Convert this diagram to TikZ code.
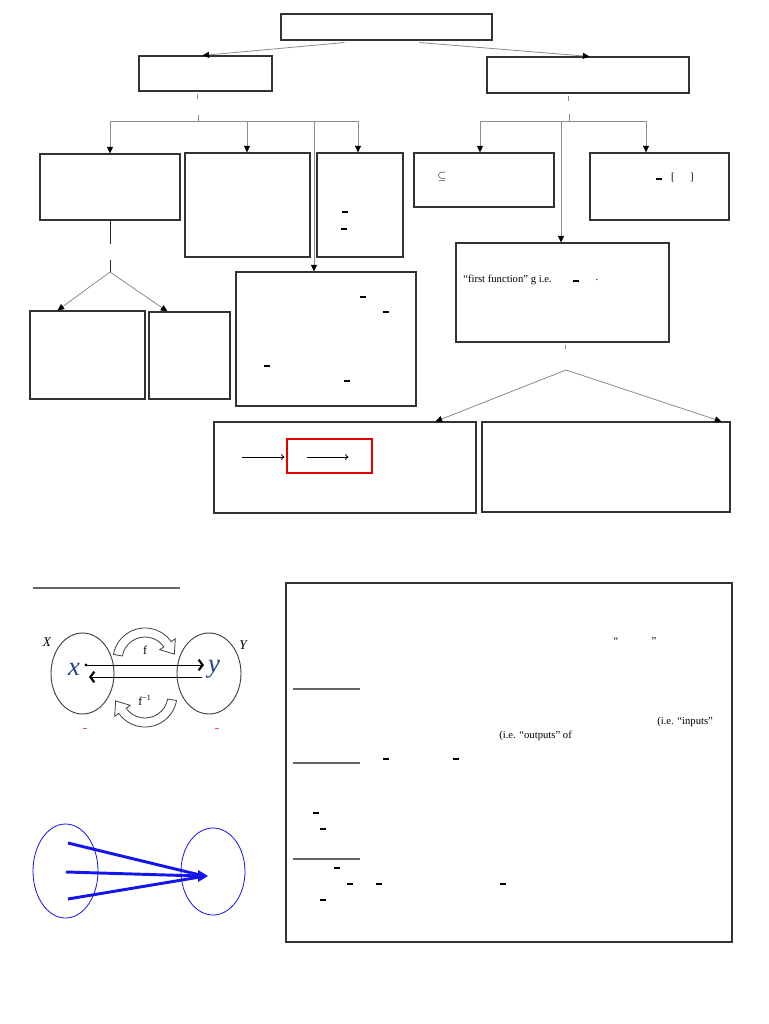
\documentclass[tikz,border=0pt]{standalone}
\usepackage{fontspec}
\setmainfont{Liberation Serif}
\usetikzlibrary{arrows.meta,fit,calc,shapes.geometric}
\definecolor{xblue}{RGB}{35,65,140}
\definecolor{bblue}{RGB}{20,20,235}
\begin{document}
\begin{tikzpicture}[x=0.75pt,y=-0.75pt,
  box/.style={draw=black!80, line width=0.8pt, inner sep=0pt},
  conn/.style={draw=black!45, line width=0.6pt},
  arr/.style={conn, -{Triangle[length=5pt,width=4.5pt,color=black]}},
  darkline/.style={draw=black!85, line width=0.7pt},
  blot/.style={fill=black, inner sep=0pt, minimum width=4.5pt, minimum height=1.8pt},
  txt/.style={font=\fontsize{8}{9.6}\selectfont, inner sep=0pt},
  ell/.style={draw=black!75, line width=0.7pt, ellipse, inner sep=0pt},
  bell/.style={draw=bblue, line width=0.6pt, ellipse, inner sep=0pt},
  uline/.style={draw=black!60, line width=0.9pt},
  curvarr/.pic={\draw[black!75, line width=0.6pt, fill=white]
     (190:32) arc[start angle=190, end angle=325, radius=32]
     -- (325:37) -- (29.4,-5.9) -- (325:18) -- (325:23)
     arc[start angle=325, end angle=190, radius=23] -- cycle;}]
\useasboundingbox (0,0) rectangle (768,1024);
\fill[white] (0,0) rectangle (768,1024);

% ---------- boxes ----------
\node[box, fit={(281,14) (492,40)}] (top) {};
\node[box, fit={(139,56) (272,91)}] (l1) {};
\node[box, fit={(487,57) (689,93)}] (r1) {};
\node[box, fit={(40,154) (180,220)}] (a) {};
\node[box, fit={(185,153) (310,257)}] (b) {};
\node[box, fit={(317,153) (403,257)}] (c) {};
\node[box, fit={(236,272) (416,406)}] (d) {};
\node[box, fit={(30,311) (145,399)}] (e) {};
\node[box, fit={(149,312) (230,399)}] (f) {};
\node[box, fit={(414,153) (554,207)}] (g) {};
\node[box, fit={(590,153) (729,220)}] (h) {};
\node[box, fit={(456,243) (669,342)}] (i) {};
\node[box, fit={(214,422) (476,513)}] (j) {};
\node[box, fit={(482,422) (730,512)}] (k) {};
\node[box, fit={(286,583) (732,942)}] (notes) {};
\node[draw=red!90!black, line width=0.8pt, inner sep=0pt, fit={(287,439) (372,473)}] (red) {};

% ---------- connectors ----------
\draw[arr] ($(top.south west)+(64,2)$) -- ($(l1.north west)+(64,0)$);
\draw[arr] ($(top.south west)+(139,2)$) -- ($(r1.north west)+(103,0)$);

\coordinate (lj) at (198,121);
\coordinate (lh1) at (110,121);
\coordinate (lb) at (247,121);
\coordinate (ld) at (314,121);
\coordinate (lh2) at (358,121);
\draw[conn] ($(l1.south west)+(59,2)$) -- ++(0,5);
\draw[conn] (lj) -- ++(0,-6);
\draw[conn] (lh1) -- (lh2);
\draw[arr] (lh1) -- (a.north -| lh1);
\draw[arr] (lb) -- (b.north -| lb);
\draw[arr] (lh2) -- (c.north -| lh2);
\draw[arr] (ld) -- (d.north -| ld);

\coordinate (asplit) at (110,272);
\draw[darkline] (a.south) -- ++(0,23);
\draw[darkline] (asplit) -- ++(0,-12);
\draw[arr] (asplit) -- ($(e.north west)+(28,0)$);
\draw[arr] (asplit) -- ($(f.north west)+(19,0)$);

\coordinate (rj) at (569,121);
\coordinate (rh1) at (480,121);
\coordinate (ri) at (561,121);
\coordinate (rh2) at (646,121);
\draw[conn] ($(r1.south west)+(82,2)$) -- ++(0,5);
\draw[conn] (rj) -- ++(0,-7);
\draw[conn] (rh1) -- (rh2);
\draw[arr] (rh1) -- (g.north -| rh1);
\draw[arr] (rh2) -- (h.north -| rh2);
\draw[arr] (ri) -- (i.north -| ri);

\coordinate (isplit) at (566,370);
\draw[conn] ($(i.south west)+(110,2)$) -- ++(0,4);
\draw[arr] (isplit) -- ($(j.north west)+(222,0)$);
\draw[arr] (isplit) -- ($(k.north west)+(240,0)$);

\draw[line width=0.6pt, -{To[length=2.5pt,width=4.5pt]}] ($(red.west)+(-44,1)$) -- ($(red.west)+(-2,1)$);
\draw[line width=0.6pt, -{To[length=2.5pt,width=4.5pt]}] ($(red.west)+(21,1)$) -- ($(red.west)+(62,1)$);

% ---------- texts and marks in the tree ----------
\node[txt] (sub) at (442,177) {$\subseteq$};
\node[blot] (m1) at (659,179) {};
\node[txt] (lbr) at (673,178) {[};
\node[txt] (rbr) at (692,178) {]};
\node[txt, anchor=west] (ff) at (463,280) {“first function” g i.e.};
\node[blot] (m2) at (576,281) {};
\node[txt] (dot) at (597,280) {.};
\node[blot] (m3) at (345,212) {};
\node[blot] (m4) at (344,229) {};
\node[blot] (m5) at (363,297) {};
\node[blot] (m6) at (386,312) {};
\node[blot] (m7) at (267,366) {};
\node[blot] (m8) at (347,381) {};

% ---------- notes box ----------
\node[txt] (q1) at (616,641) {“};
\node[txt] (q2) at (654,641) {”};
\node[txt, anchor=west] (inp) at (657,722) {(i.e. “inputs”};
\node[txt, anchor=west] (outp) at (499,736) {(i.e. “outputs” of};
\draw[uline] (293,689) -- (360,689);
\draw[uline] (293,763) -- (360,763);
\draw[uline] (293,859) -- (360,859);
\node[blot] (n1) at (386,759) {};
\node[blot] (n2) at (456,759) {};
\node[blot] (n3) at (316,813) {};
\node[blot] (n4) at (323,829) {};
\node[blot] (n5) at (337,868) {};
\node[blot] (n6) at (350,884) {};
\node[blot] (n7) at (379,884) {};
\node[blot] (n8) at (503,884) {};
\node[blot] (n9) at (323,900) {};

% ---------- inverse function picture ----------
\draw[draw=black!60, line width=1pt] (33,588) -- (180,588);
\node[ell, minimum width=47.25pt, minimum height=60.75pt] (X) at (82.5,673.5) {};
\node[ell, minimum width=48pt, minimum height=60.75pt] (Y) at (209,673.5) {};
\node[font=\itshape\fontsize{10}{12}\selectfont] (Xl) at (47,642) {X};
\node[font=\itshape\fontsize{10}{12}\selectfont] (Yl) at (243,645) {Y};
\node[font=\itshape\fontsize{20}{22}\selectfont, text=xblue] (xl) at (74,669) {x};
\node[font=\itshape\fontsize{20}{22}\selectfont, text=xblue] (yl) at (214,669) {y};
\coordinate (p1) at (86,665);
\coordinate (p2) at (204,665);
\coordinate (p3) at (202,677);
\coordinate (p4) at (89,677);
\fill (p1) circle (1.2pt);
\draw[line width=0.7pt, -{Straight Barb[length=3pt,width=8pt,line width=1.6pt]}] (p1) -- (p2);
\draw[line width=0.7pt, -{Straight Barb[length=3pt,width=8pt,line width=1.6pt]}] (p3) -- (p4);
\pic at (145,660) {curvarr};
\pic[rotate=180] at (145,695) {curvarr};
\node[font=\fontsize{9}{10}\selectfont] (fl) at (145,650) {f};
\node[font=\fontsize{9}{10}\selectfont] (finv) at (145,700) {f\textsuperscript{−1}};
\draw[red!70, line width=0.6pt] (83,728) -- (87,728);
\draw[red!70, line width=0.6pt] (215,728) -- (219,728);

% ---------- many-to-one picture ----------
\node[bell, minimum width=48.75pt, minimum height=70.5pt] (bl) at (65.5,871) {};
\node[bell, minimum width=48pt, minimum height=65.25pt] (br) at (213,871.5) {};
\coordinate (bt) at (208,876);
\coordinate (s1) at (68,843);
\coordinate (s2) at (66,872);
\coordinate (s3) at (68,899);
\draw[bblue, line width=2.2pt] (s1) -- ($(bt)+(-8,-1)$);
\draw[bblue, line width=2.2pt] (s2) -- ($(bt)+(-8,0)$);
\draw[bblue, line width=2.2pt] (s3) -- ($(bt)+(-8,1)$);
\fill[bblue] ($(bt)+(-10,-6)$) -- (bt) -- ($(bt)+(-10,6)$) -- cycle;
\end{tikzpicture}
\end{document}
